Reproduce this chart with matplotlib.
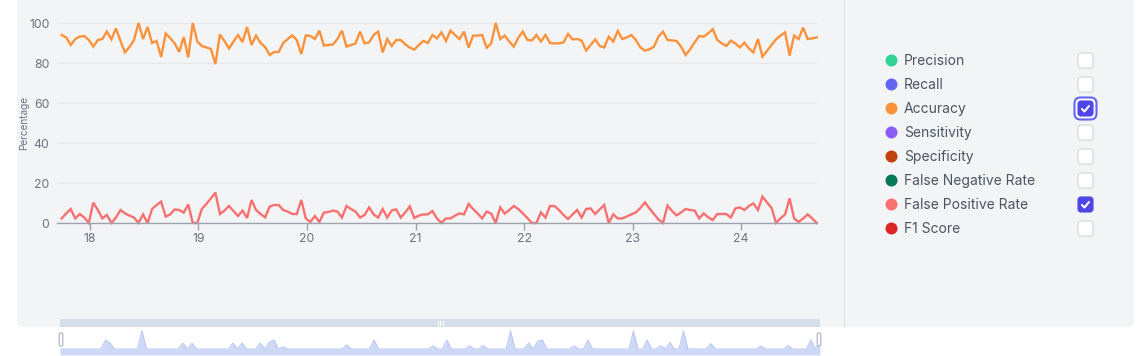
import numpy as np
import matplotlib.pyplot as plt
from matplotlib.patches import FancyBboxPatch, Circle, Rectangle

plt.rcParams['font.family'] = ['Inter', 'DejaVu Sans']

W, H = 1147, 356

# hourly samples, first one at day 17 ~17:45
start_day = 17.739

accuracy = [
    94.0, 92.8, 89.0, 92.0, 93.2, 93.5, 91.5, 88.2, 91.5, 92.0,
    95.7, 91.8, 97.3, 91.0, 85.3, 88.0, 91.5, 100.0, 92.0, 98.0,
    90.0, 91.0, 83.0, 94.8, 92.5, 89.8, 85.5, 93.0, 82.8, 100.0,
    90.7, 88.5, 87.8, 87.0, 79.5, 94.3, 91.0, 87.2, 90.7, 94.0,
    90.5, 98.0, 89.0, 93.7, 90.0, 88.0, 84.0, 85.5, 85.5, 90.0,
    92.0, 93.8, 91.5, 84.5, 93.8, 93.5, 92.0, 96.2, 88.7, 89.0,
    89.3, 92.0, 96.2, 88.2, 89.0, 89.8, 95.7, 89.8, 90.3, 94.0,
    95.7, 85.3, 92.0, 88.5, 91.5, 91.5, 89.3, 87.7, 86.7, 89.0,
    91.0, 90.0, 94.0, 92.3, 95.3, 91.0, 96.2, 94.0, 92.0, 95.7,
    87.7, 93.7, 93.7, 94.0, 87.7, 89.8, 100.0, 92.0, 93.7, 90.7,
    88.2, 92.7, 95.7, 91.5, 91.3, 94.0, 90.7, 94.0, 90.0, 89.8,
    89.8, 90.3, 94.5, 91.8, 92.0, 91.2, 86.2, 89.0, 91.8, 88.5,
    87.8, 93.2, 90.7, 96.0, 92.0, 92.8, 94.0, 91.5, 87.8, 86.2,
    86.8, 88.2, 93.2, 95.7, 91.5, 91.3, 91.0, 88.2, 84.0, 86.8,
    90.3, 93.5, 93.2, 94.8, 97.0, 91.5, 89.8, 88.5, 91.2, 89.8,
    87.8, 90.2, 87.3, 85.3, 92.0, 83.2, 86.0, 89.0, 91.8, 93.7,
    95.3, 83.7, 93.7, 92.0, 97.7, 92.0, 92.3, 92.8,
]

false_positive_rate = [
    2.3, 4.8, 7.0, 2.3, 4.5, 2.7, 0.0, 10.2, 6.5, 2.3,
    4.0, 0.0, 2.7, 6.5, 4.8, 3.7, 2.7, 0.0, 4.3, 0.0,
    7.0, 9.0, 10.7, 3.2, 4.3, 6.8, 6.5, 5.2, 9.3, 0.0,
    0.0, 7.0, 9.5, 12.3, 15.2, 4.5, 6.2, 8.5, 6.0, 3.5,
    6.2, 2.5, 11.5, 6.5, 4.5, 2.8, 8.2, 9.0, 9.0, 6.5,
    5.7, 4.5, 4.5, 11.5, 2.3, 0.5, 3.5, 0.5, 5.2, 5.5,
    6.2, 5.7, 2.7, 8.5, 7.0, 5.7, 2.7, 4.0, 7.8, 4.3,
    2.7, 7.0, 2.7, 6.3, 6.8, 2.7, 5.3, 8.3, 2.5, 3.7,
    4.3, 4.3, 6.0, 2.3, 0.0, 2.3, 2.3, 3.7, 4.8, 4.3,
    9.5, 7.0, 4.8, 2.3, 5.7, 4.7, 0.0, 7.8, 4.7, 6.5,
    8.5, 7.0, 4.8, 2.5, 0.0, 0.0, 5.3, 2.7, 8.5, 8.5,
    6.5, 4.0, 2.0, 4.3, 6.5, 2.7, 7.0, 7.3, 4.5, 6.8,
    9.0, 0.0, 4.3, 2.3, 2.3, 3.3, 4.3, 5.3, 7.5, 10.3,
    7.3, 4.5, 1.8, 0.0, 8.7, 6.0, 3.8, 5.3, 7.0, 6.5,
    6.2, 2.3, 4.8, 2.8, 1.5, 4.5, 4.5, 4.5, 2.7, 7.3,
    7.8, 6.5, 8.5, 9.8, 6.5, 13.2, 10.3, 7.7, 0.0, 2.3,
    4.3, 12.3, 2.3, 0.5, 2.3, 4.3, 2.3, 0.0,
]

# overview series shown in the zoom slider (zero except at these hours)
nav_spike_hours = [10, 11, 18, 27, 29, 38, 40, 44, 46, 47, 49, 63, 69, 82, 85, 90, 93,
                   99, 103, 105, 106, 113, 116, 126, 129, 132, 134, 137, 143, 154, 160,
                   165, 167]
nav_spike_values = [5.0, 3.3, 10.0, 3.3, 3.3, 3.3, 3.3, 3.3, 3.7, 5.0, 1.2, 2.4, 5.0, 1.8,
                    5.0, 1.8, 1.8, 10.0, 3.3, 4.3, 5.0, 1.8, 5.0, 10.0, 5.0, 1.8, 3.7, 10.0,
                    3.0, 1.8, 1.8, 5.0, 4.0]

series_names = ['Precision', 'Recall', 'Accuracy', 'Sensitivity', 'Specificity',
                'False Negative Rate', 'False Positive Rate', 'F1 Score']
series_colors = ['#34d399', '#6366f1', '#fb923c', '#8b5cf6', '#c2410c',
                 '#047857', '#f87171', '#dc2626']
series_checked = [False, False, True, False, False, False, True, False]

day_ticks = [18, 19, 20, 21, 22, 23, 24]
y_ticks = [0, 20, 40, 60, 80, 100]

hours = np.arange(len(accuracy))
days = start_day + hours / 24
nav_values = np.zeros(len(accuracy))
nav_values[nav_spike_hours] = nav_spike_values


def px_rect(x0, y0, x1, y1):
    # pixel box (origin top-left) -> figure fraction [l, b, w, h]
    return [x0 / W, 1 - y1 / H, (x1 - x0) / W, (y1 - y0) / H]


fig = plt.figure(figsize=(W / 100, H / 100), dpi=100)
fig.patch.set_facecolor('white')

# background panel
bg = fig.add_axes([0, 0, 1, 1], zorder=0)
bg.set_xlim(0, W)
bg.set_ylim(H, 0)
bg.axis('off')
bg.add_patch(FancyBboxPatch((17, -20), 1117, 347,
                            boxstyle='round,pad=0,rounding_size=6',
                            fc='#f3f4f6', ec='none'))
bg.plot([843.5, 843.5], [0, 327], color='#e5e7eb', lw=1)

# main chart
ax = fig.add_axes(px_rect(57, 23, 817, 223), zorder=1)
ax.set_facecolor('none')
ax.plot(days, accuracy, color='#fb923c', lw=1.7, clip_on=False, solid_joinstyle='miter')
ax.plot(days, false_positive_rate, color='#f87171', lw=1.7, clip_on=False,
        solid_joinstyle='miter')
ax.set_xlim(17.696, 24.70)
ax.set_ylim(0, 100)
ax.set_xticks(day_ticks)
ax.set_xticklabels([str(d) for d in day_ticks])
ax.set_yticks(y_ticks)
ax.yaxis.grid(True, color='#e5e7eb', lw=1)
ax.set_axisbelow(True)
for s in ['top', 'right', 'left']:
    ax.spines[s].set_visible(False)
ax.spines['bottom'].set_color('#9ca3af')
ax.spines['bottom'].set_linewidth(1)
# tick pads are in points (1 px = 0.72 pt here)
ax.tick_params(axis='y', length=0, pad=5.5, labelcolor='#6b7280', labelsize=8.8)
ax.tick_params(axis='x', length=5, width=1, color='#9ca3af', pad=2.5,
               labelcolor='#6b7280', labelsize=8.8)
ax.set_ylabel('Percentage', fontsize=7.2, color='#6b7280')
ax.yaxis.set_label_coords(-0.037, 0.5)

# zoom slider overview
nav = fig.add_axes(px_rect(60, 327, 820, 355), zorder=2)
nav.set_facecolor('#e4ebfb')
nav.fill_between(days, nav_values, -3.33, color='#cdd9f7', lw=0)
nav.plot(days, nav_values, color='#b4c6f2', lw=0.7)
nav.set_xlim(days[0], days[-1])
nav.set_ylim(-3.33, 12.2)
nav.axis('off')

# overlay: slider frame + legend with checkboxes
ov = fig.add_axes([0, 0, 1, 1], zorder=3)
ov.set_xlim(0, W)
ov.set_ylim(H, 0)
ov.axis('off')
ov.add_patch(Rectangle((60, 319), 760, 8, fc='#d6deec', ec='none'))
for gx in [437.5, 440, 442.5]:
    ov.plot([gx, gx], [320.5, 324.5], color='white', lw=0.8)
for hx in [61, 819]:
    ov.add_patch(FancyBboxPatch((hx - 1.8, 333), 3.6, 13,
                                boxstyle='round,pad=0,rounding_size=1.5',
                                fc='white', ec='#a7b0c2', lw=0.8))

for k, (name, color, checked) in enumerate(zip(series_names, series_colors, series_checked)):
    y = 60.5 + 24 * k
    ov.add_patch(Circle((891.5, y), 6, fc=color, ec='none'))
    ov.text(904, y + 0.5, name, fontsize=10, color='#4b5563', va='center', ha='left')
    bx, by = 1078, y - 7.5
    if checked:
        if name == 'Accuracy':
            ov.add_patch(FancyBboxPatch((bx - 3.5, by - 3.5), 22, 22,
                                        boxstyle='round,pad=0,rounding_size=6',
                                        fc='white', ec='#6366f1', lw=1.5))
        ov.add_patch(FancyBboxPatch((bx, by), 15, 15,
                                    boxstyle='round,pad=0,rounding_size=3',
                                    fc='#4f46e5', ec='#4f46e5', lw=0.8))
        ov.plot([bx + 4, bx + 6.5, bx + 11], [by + 8, by + 10.5, by + 5],
                color='white', lw=1.5, solid_capstyle='round', solid_joinstyle='round')
    else:
        ov.add_patch(FancyBboxPatch((bx, by), 15, 15,
                                    boxstyle='round,pad=0,rounding_size=3',
                                    fc='white', ec='#d1d5db', lw=0.8))

plt.savefig('out.png', dpi=100, facecolor='white')
